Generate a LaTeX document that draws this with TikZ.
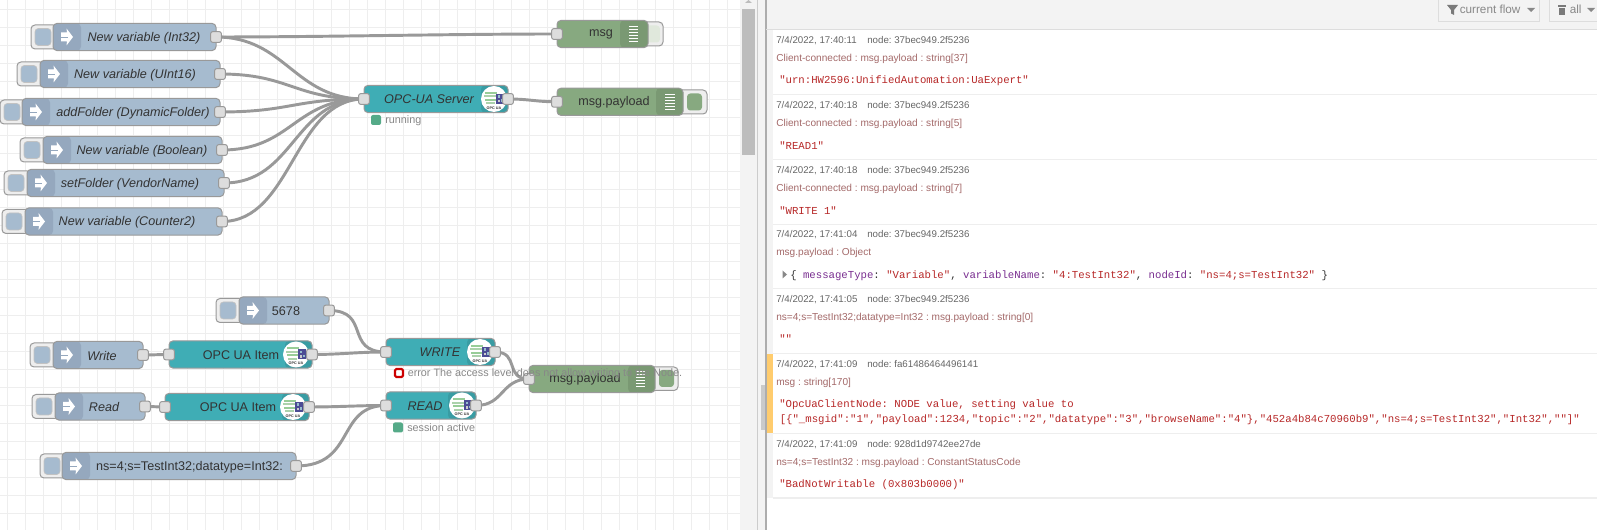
\documentclass[tikz,border=0pt]{standalone}
\usepackage{fontspec}
\setmainfont{Liberation Sans}
\setmonofont{Liberation Mono}
\definecolor{gridc}{HTML}{EEEEEE}
\definecolor{wirec}{HTML}{999999}
\definecolor{edgec}{HTML}{999999}
\definecolor{portc}{HTML}{DDDDDD}
\definecolor{injc}{HTML}{A6BBCF}
\definecolor{injd}{HTML}{95A8BE}
\definecolor{dbgc}{HTML}{87A980}
\definecolor{dbgd}{HTML}{7A9973}
\definecolor{dbgl}{HTML}{E0E8DC}
\definecolor{opcc}{HTML}{3FADB5}
\definecolor{opcd}{HTML}{399CA3}
\definecolor{okc}{HTML}{55AA88}
\definecolor{errc}{HTML}{CC0000}
\definecolor{bandc}{HTML}{F3F3F3}
\definecolor{sepc}{HTML}{EEEEEE}
\definecolor{metac}{HTML}{A46A6A}
\definecolor{datec}{HTML}{666666}
\definecolor{strc}{HTML}{B72828}
\definecolor{keyc}{HTML}{792E90}
\definecolor{txtc}{HTML}{333333}
\definecolor{stc}{HTML}{888888}
\definecolor{thumbc}{HTML}{BDBDBD}
\definecolor{warnc}{HTML}{FFCC6E}
\pgfdeclarelayer{gridlayer}
\pgfdeclarelayer{wirelayer}
\pgfsetlayers{gridlayer,wirelayer,main}
\tikzset{
  x=0.75pt,y=-0.75pt,
  body/.style={draw=edgec,line width=0.75pt,rounded corners=3pt,inner sep=0pt,outer sep=0pt,minimum height=20.4pt},
  portn/.style={draw=edgec,fill=portc,line width=0.75pt,rounded corners=1.5pt,inner sep=0pt,outer sep=0pt,minimum size=8pt},
  lbl/.style={inner sep=0pt,text=txtc,font=\fontsize{9.45}{11}\selectfont},
  wire/.style={draw=wirec,line width=2.2pt},
  st/.style={inner sep=0pt,anchor=west,text=stc,font=\fontsize{8.1}{10}\selectfont},
  dt/.style={inner sep=0pt,anchor=west,text=datec,font=\fontsize{7.3}{9}\selectfont},
  meta/.style={inner sep=0pt,anchor=west,text=metac,font=\fontsize{7.58}{9}\selectfont},
  pay/.style={inner sep=0pt,anchor=west,text=strc,font=\ttfamily\fontsize{8}{10}\selectfont},
  hdr/.style={inner sep=0pt,anchor=west,text=stc,font=\fontsize{8.8}{10}\selectfont},
  sep/.style={draw=sepc,line width=1pt},
}
\newcommand\injectn[7]{%
  \draw[draw=edgec,fill=gridc,line width=0.75pt,rounded corners=3pt] (#2,#5-12) rectangle (#3+4,#5+12);
  \fill[injc,rounded corners=2.5pt] (#2+4,#5-8.5) rectangle (#2+20,#5+8.5);
  \draw[edgec!60,line width=0.5pt,rounded corners=2.5pt] (#2+4,#5-8.5) rectangle (#2+20,#5+8.5);
  \node[body,fill=injc,minimum width={(#4-#3)*0.75pt},
    path picture={\fill[injd] (path picture bounding box.north west) rectangle ([xshift=21pt]path picture bounding box.south west);}]
    (#1) at ({(#3+#4)/2},#5) {};
  \begin{scope}[shift={(#3+14,#5)}]
    \fill[white] (-6,-4.5) -- (0,-4.5) -- (-0.5,-8.5) -- (6,0) -- (-0.5,8.5) -- (0,4.5) -- (-6,4.5) -- cycle;
    \draw[injd,line width=0.55pt] (-6,0) -- (1,0);
  \end{scope}
  \node[lbl] (#1-t) at (#6,#5+1) {#7};
  \node[portn] (#1-o) at (#1.east) {};
}
\newcommand\opcicon[3]{%
  \begin{scope}[shift={(#2,#3)}]
    \fill[white] (0,0) circle (13);
    \fill[green!35!gray!60] (-9,-7) rectangle (3,-5);
    \fill[green!30!gray!50] (-10,-3.5) rectangle (3,-1.5);
    \fill[green!35!gray!60] (-9,0) rectangle (2,2);
    \fill[green!30!gray!50] (-8,3.5) rectangle (1,5.5);
    \fill[blue!40!black!70] (2,-5) rectangle (10,5);
    \fill[cyan!40!gray!70] (3.5,-3.5) rectangle (6,-1);
    \fill[cyan!40!gray!70] (6.5,0.5) rectangle (9,3);
    \fill[white!60!gray] (3.5,1) rectangle (5.5,3.5);
    \node[inner sep=0pt,text=txtc,font=\fontsize{2.8}{3}\selectfont\bfseries] (#1-i) at (0,9) {OPC UA};
  \end{scope}
}
\newcommand\opcn[8]{%
  \node[body,fill=opcc,minimum width={(#3-#2)*0.75pt},
    path picture={\fill[opcd] (path picture bounding box.north east) rectangle ([xshift={-(#3-#5)*0.75pt}]path picture bounding box.south east);}]
    (#1) at ({(#2+#3)/2},#4) {};
  \opcicon{#1}{#7}{#4}
  \node[lbl] (#1-t) at (#6,#4+0.5) {#8};
  \node[portn] (#1-i0) at (#1.west) {};
  \node[portn] (#1-o) at (#1.east) {};
}
\newcommand\msgrow[5]{%
  \node[dt] (#1-d) at (776,#2) {#3};
  \node[dt] (#1-n) at (867,#2) {node: #4};
  \node[meta] (#1-m) at (776,#2+18.5) {#5};
}
\begin{document}
\frenchspacing
\begin{tikzpicture}
\useasboundingbox (0,0) rectangle (1597,530);
\begin{pgfonlayer}{gridlayer}
  \fill[white] (0,0) rectangle (1597,530);
  \foreach \i in {0,...,40} \draw[gridc,line width=0.75pt] (7.3+18*\i,0) -- (7.3+18*\i,530);
  \foreach \i in {0,...,29} \draw[gridc,line width=0.75pt] (0,9.3+18*\i) -- (740,9.3+18*\i);
\end{pgfonlayer}

% ---------- side panel ----------
\fill[bandc] (740,0) rectangle (757,530);
\fill[thumbc] (742,9) rectangle (755,155);
\fill[thumbc] (745,3) -- (748.5,0) -- (752,3) -- cycle;
\fill[white] (757,0) rectangle (1597,530);
\draw[edgec!50,line width=0.75pt] (757,0) -- (757,530);
\fill[bandc] (758,0) rectangle (765,530);
\fill[thumbc!80] (761,385) rectangle (765,430);
\fill[bandc] (766,0) rectangle (1597,30);
\fill[bandc] (766,30) rectangle (773,498);
\fill[warnc] (766,353.7) rectangle (773,433.5);
\draw[edgec!80,line width=1.3pt] (765.7,0) -- (765.7,530);
\draw[draw=portc,line width=0.75pt] (766,30) -- (1597,30);
\foreach \yy in {94.5,159.5,224.5,288.3,353.5,433.5,498}
  \draw[sep] (773,\yy) -- (1597,\yy);

% header buttons
\draw[draw=portc,fill=bandc,line width=0.9pt] (1438.5,-2) rectangle (1539.5,21.5);
\draw[draw=portc,fill=bandc,line width=0.9pt] (1549.5,-2) rectangle (1600,21.5);
\fill[stc!90!black] (1447,5) -- (1458,5) -- (1454,10) -- (1454,15) -- (1451,13.5) -- (1451,10) -- cycle;
\node[hdr] (hflow) at (1459.5,9.5) {current flow};
\fill[stc] (1527,8) -- (1535,8) -- (1531,12) -- cycle;
\fill[stc!90!black] (1557.5,5.5) rectangle (1565.5,7);
\fill[stc!90!black] (1558.5,8) rectangle (1564.5,15);
\node[hdr] (hall) at (1569.5,9.5) {all};
\fill[stc] (1587,8) -- (1595,8) -- (1591,12) -- cycle;

% messages
\msgrow{m1}{40.5}{7/4/2022, 17:40:11}{37bec949.2f5236}{Client-connected : msg.payload : string[37]}
\node[pay] (m1-p) at (779,80.7) {"urn:HW2596:UnifiedAutomation:UaExpert"};
\msgrow{m2}{105.5}{7/4/2022, 17:40:18}{37bec949.2f5236}{Client-connected : msg.payload : string[5]}
\node[pay] (m2-p) at (779,145.7) {"READ1"};
\msgrow{m3}{170.5}{7/4/2022, 17:40:18}{37bec949.2f5236}{Client-connected : msg.payload : string[7]}
\node[pay] (m3-p) at (779,210.7) {"WRITE 1"};
\msgrow{m4}{234.5}{7/4/2022, 17:41:04}{37bec949.2f5236}{msg.payload : Object}
\fill[stc] (782.5,270.5) -- (787,274.5) -- (782.5,278.5) -- cycle;
\node[pay] (m4-p) at (790,275.7) {\textcolor{txtc}{\{\ }\textcolor{keyc}{messageType}\textcolor{txtc}{:\ }"Variable"\textcolor{txtc}{,\ }\textcolor{keyc}{variableName}\textcolor{txtc}{:\ }"4:TestInt32"\textcolor{txtc}{,\ }\textcolor{keyc}{nodeId}\textcolor{txtc}{:\ }"ns=4;s=TestInt32"\textcolor{txtc}{\ \}}};
\msgrow{m5}{299.5}{7/4/2022, 17:41:05}{37bec949.2f5236}{ns=4;s=TestInt32;datatype=Int32 : msg.payload : string[0]}
\node[pay] (m5-p) at (779,338.7) {""};
\msgrow{m6}{364.5}{7/4/2022, 17:41:09}{fa61486464496141}{msg : string[170]}
\node[pay] (m6-p) at (779,404.7) {"OpcUaClientNode: NODE value, setting value to};
\node[pay] (m6-q) at (779.5,419.7) {[\{"\_msgid":"1","payload":1234,"topic":"2","datatype":"3","browseName":"4"\},"452a4b84c70960b9","ns=4;s=TestInt32","Int32",""]"};
\msgrow{m7}{444.5}{7/4/2022, 17:41:09}{928d1d9742ee27de}{ns=4;s=TestInt32 : msg.payload : ConstantStatusCode}
\node[pay] (m7-p) at (779,484.7) {"BadNotWritable (0x803b0000)"};

% ---------- flow 1 ----------
\injectn{a1}{31}{53}{216}{37}{144}{\itshape New variable (Int32)}
\injectn{a2}{17}{40}{220}{74}{135}{\itshape New variable (UInt16)}
\injectn{a3}{0}{22}{220}{112}{133}{\itshape addFolder (DynamicFolder)}
\injectn{a4}{20}{43}{222}{150}{142}{\itshape New variable (Boolean)}
\injectn{a5}{4}{27}{224}{183}{130}{\itshape setFolder (VendorName)}
\injectn{a6}{2}{25}{222}{221.5}{127}{\itshape New variable (Counter2)}
\opcn{srv}{364}{508}{99}{481}{429}{494}{\itshape OPC-UA Server}
\fill[okc,rounded corners=1.5pt] (371,115) rectangle (381,125);
\node[st] (srv-s) at (385,120.5) {running};

\draw[draw=edgec,fill=gridc,line width=0.75pt,rounded corners=3pt] (640,22) rectangle (663,46);
\fill[dbgl,rounded corners=2.5pt] (646,25.5) rectangle (660,42.5);
\node[body,fill=dbgc,minimum width=68.25pt,
  path picture={\fill[dbgd] (path picture bounding box.north east) rectangle ([xshift=-21pt]path picture bounding box.south east);}]
  (d1) at (602.5,34) {};
\foreach \k in {-7.5,-4.5,-1.5,1.5,4.5,7.5} \fill[white] (629,34+\k-0.6) rectangle (638,34+\k+0.6);
\node[lbl] (d1-t) at (601,34.5) {msg};
\node[portn] (d1-i0) at (d1.west) {};

\draw[draw=edgec,fill=gridc,line width=0.75pt,rounded corners=3pt] (678,90) rectangle (707,114);
\fill[dbgc,rounded corners=2.5pt] (687,93.5) rectangle (702,110.5);
\node[body,fill=dbgc,minimum width=94.5pt,
  path picture={\fill[dbgd] (path picture bounding box.north east) rectangle ([xshift=-20.25pt]path picture bounding box.south east);}]
  (d2) at (620,101.8) {};
\foreach \k in {-7.5,-4.5,-1.5,1.5,4.5,7.5} \fill[white] (665,101.8+\k-0.6) rectangle (675,101.8+\k+0.6);
\node[lbl] (d2-t) at (614,102) {msg.payload};
\node[portn] (d2-i0) at (d2.west) {};

% ---------- flow 2 ----------
\injectn{b1}{216}{239}{329}{310.5}{286}{5678}
\injectn{b2}{30}{53}{143}{355}{102}{\itshape Write}
\injectn{b3}{32}{55}{145}{406.5}{104}{\itshape Read}
\injectn{b4}{40}{62}{296}{466}{189.5}{ns=4;s=TestInt32;datatype=Int32:}
\opcn{it1}{169}{312}{354.5}{285}{241}{296}{OPC UA Item}
\opcn{it2}{165}{309}{407}{282}{238}{293}{OPC UA Item}
\opcn{wr}{386}{495}{352}{467}{440}{480}{\itshape WRITE}
\opcn{rd}{386}{476}{405.5}{448}{425}{462}{\itshape READ}

\draw[draw=edgec,fill=gridc,line width=0.75pt,rounded corners=3pt] (650,367) rectangle (678,390.5);
\fill[dbgc,rounded corners=2.5pt] (659,370) rectangle (674,387);
\node[body,fill=dbgc,minimum width=94.5pt,
  path picture={\fill[dbgd] (path picture bounding box.north east) rectangle ([xshift=-20.25pt]path picture bounding box.south east);}]
  (d3) at (592,379) {};
\foreach \k in {-7.5,-4.5,-1.5,1.5,4.5,7.5} \fill[white] (636,379+\k-0.6) rectangle (645,379+\k+0.6);
\node[lbl] (d3-t) at (585,379.5) {msg.payload};
\node[portn] (d3-i0) at (d3.west) {};

\draw[draw=errc,fill=white,line width=1.6pt,rounded corners=1pt] (395,369) rectangle (403,377);
\node[st] (wr-s) at (407.5,373.5) {error The access level does not allow writing to the Node.};
\fill[okc,rounded corners=1.5pt] (393,422.5) rectangle (403,432.5);
\node[st] (rd-s) at (407,427.5) {session active};

% ---------- wires ----------
\begin{pgfonlayer}{wirelayer}
  \draw[wire] (a1.east) .. controls +(110,0) and +(-110,0) .. (d1.west);
  \foreach \n in {a1,a2,a3,a4,a5,a6}
    \draw[wire] (\n.east) .. controls +(70,0) and +(-70,0) .. (srv.west);
  \draw[wire] (srv.east) .. controls +(22,0) and +(-22,0) .. (d2.west);
  \draw[wire] (b1.east) .. controls +(42,0) and +(-42,0) .. (wr.west);
  \draw[wire] (b2.east) .. controls +(10,0) and +(-10,0) .. (it1.west);
  \draw[wire] (b3.east) .. controls +(9,0) and +(-9,0) .. (it2.west);
  \draw[wire] (b4.east) .. controls +(60,0) and +(-50,0) .. (rd.west);
  \draw[wire] (it1.east) .. controls +(30,0) and +(-30,0) .. (wr.west);
  \draw[wire] (it2.east) .. controls +(30,0) and +(-30,0) .. (rd.west);
  \draw[wire] (wr.east) .. controls +(25,0) and +(-25,0) .. (d3.west);
  \draw[wire] (rd.east) .. controls +(28,0) and +(-28,0) .. (d3.west);
\end{pgfonlayer}
\end{tikzpicture}
\end{document}
